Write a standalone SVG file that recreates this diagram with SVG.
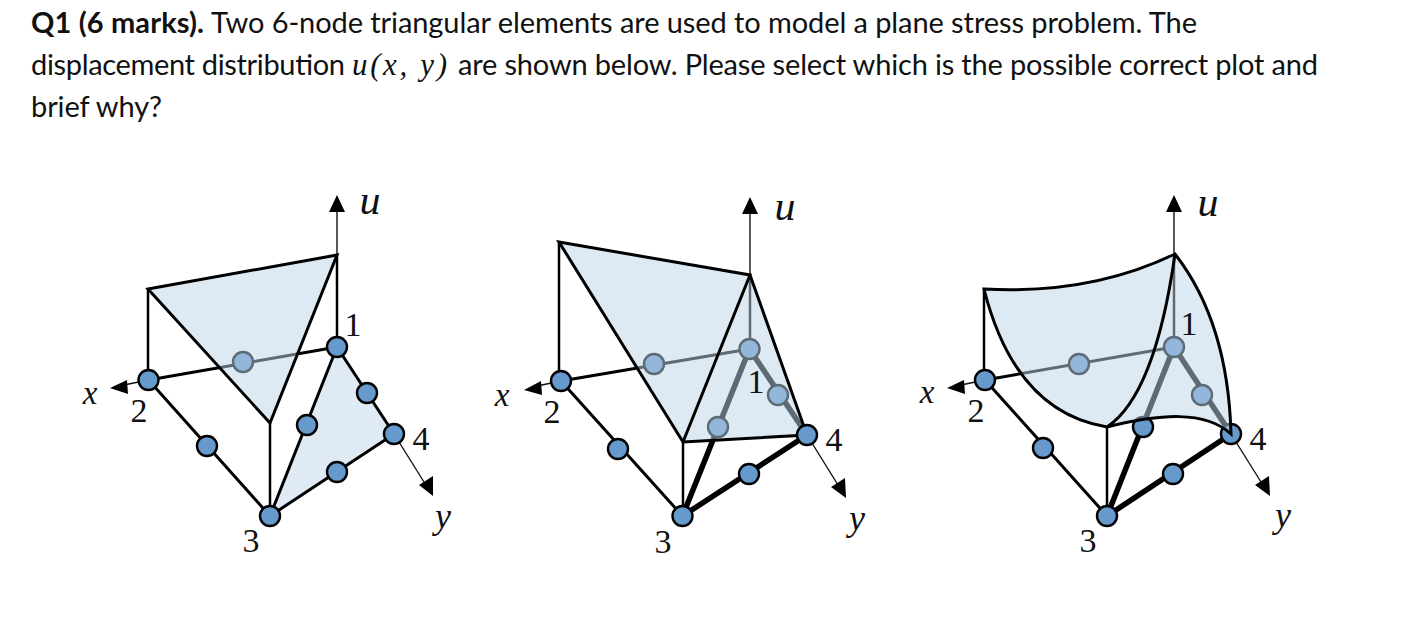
<svg xmlns="http://www.w3.org/2000/svg" width="1408" height="622" viewBox="0 0 1408 622">
<style>
.t{font:29px Lato,"Open Sans",sans-serif;fill:#111}
.b{font-weight:700}
.m{font:italic 31px "Liberation Serif",serif;fill:#111}
.d{font:34px "Liberation Serif",serif;fill:#111;text-anchor:middle}
.v{font:italic 42px "Liberation Serif",serif;fill:#111;text-anchor:middle}
.x{font-size:33px}
.y{font-size:36px}
.ax{fill:none;stroke:#111;stroke-width:1.4}
.e{fill:none;stroke:#000;stroke-width:2.5}
.k{fill:none;stroke:#000;stroke-width:3}
.h{fill:none;stroke:#000;stroke-width:5.500}
.s{fill:rgb(190,213,232);fill-opacity:.5;stroke:none}
.f{fill:#dfeaf4;stroke:none}
.n{fill:#6699cc;stroke:#000;stroke-width:2.4}
.tip{fill:#000;stroke:none}
</style>
<defs><circle id="nd" class="n" r="10"/></defs>
<g id="question">
<text class="t b" x="31" y="33" textLength="173" lengthAdjust="spacing">Q1 (6 marks).</text>
<text class="t" x="211" y="33" textLength="986" lengthAdjust="spacing">Two 6-node triangular elements are used to model a plane stress problem. The</text>
<text class="t" x="31" y="75" textLength="314" lengthAdjust="spacing">displacement distribution</text>
<text class="m" x="352" y="75" textLength="95" lengthAdjust="spacing">u(x, y)</text>
<text class="t" x="458" y="75" textLength="860" lengthAdjust="spacing">are shown below. Please select which is the possible correct plot and</text>
<text class="t" x="31" y="117" textLength="131" lengthAdjust="spacing">brief why?</text>
</g>

<g id="plot-a">
<polygon class="f" points="337,347 270,516 394,434"/>
<g id="plot-a-connectors">
<path class="ax" d="M337 212V255M148 380L124 385M394 434L424 482"/>
<path class="tip" d="M337 195L345 212H329ZM110 388L127 380L128 394ZM433 496L419 485L433 476Z"/>
<path class="k" d="M148.500 380L337 347M148.500 380L270 516M337 347L270 516M337 347L394 434M270 516L394 434"/>
<path class="e" d="M148 289V380M337 255V347M270 423V516"/>
</g>
<g id="a-node-1"><use href="#nd" x="337" y="347"/></g>
<g id="a-node-2"><use href="#nd" x="148.500" y="380"/></g>
<g id="a-node-3"><use href="#nd" x="270" y="516"/></g>
<g id="a-node-4"><use href="#nd" x="394" y="434"/></g>
<g id="a-node-12"><use href="#nd" x="243" y="362"/></g>
<g id="a-node-23"><use href="#nd" x="207" y="446"/></g>
<g id="a-node-13"><use href="#nd" x="307" y="425"/></g>
<g id="a-node-14"><use href="#nd" x="367" y="393"/></g>
<g id="a-node-34"><use href="#nd" x="337" y="472"/></g>
<polygon class="s" points="148,289 337,255 270,423"/>
<path class="k" d="M148 289L337 255L270 423Z"/>
<text class="d" x="353" y="336">1</text><text class="d" x="139" y="422">2</text><text class="d" x="251" y="552">3</text><text class="d" x="421" y="450">4</text>
<text class="v" x="370" y="214">u</text><text class="v x" x="90" y="404">x</text><text class="v y" x="443" y="528">y</text>
</g>

<g id="plot-b">
<g id="plot-b-connectors">
<path class="ax" d="M750 214V275M561 381L537 386M807 435L838 485"/>
<path class="tip" d="M750 197L758 214H742ZM524 390L541 381L542 395ZM846 498L831 487L845 478Z"/>
<path class="k" d="M561 381L749.500 349M561 381L682.500 516"/>
<path class="h" d="M749.500 349L682.500 516M749.500 349L807 435M682.500 516L807 435"/>
<path class="e" d="M559 242V381M750 275V349M683 442V516"/>
</g>
<g id="b-node-1"><use href="#nd" x="749.500" y="349"/></g>
<g id="b-node-2"><use href="#nd" x="561" y="381"/></g>
<g id="b-node-3"><use href="#nd" x="682.500" y="516"/></g>
<g id="b-node-12"><use href="#nd" x="654" y="364"/></g>
<g id="b-node-23"><use href="#nd" x="618" y="449"/></g>
<g id="b-node-13"><use href="#nd" x="718" y="427"/></g>
<g id="b-node-14"><use href="#nd" x="778" y="395"/></g>
<g id="b-node-34"><use href="#nd" x="749" y="474"/></g>
<polygon class="s" points="559,242 750,275 807,435 683,442"/>
<path class="k" d="M559 242L750 275L683 442ZM750 275L807 435L683 442"/>
<g id="b-node-4"><use href="#nd" x="807" y="435"/></g>
<text class="d" x="756" y="393">1</text><text class="d" x="552" y="423">2</text><text class="d" x="663" y="553">3</text><text class="d" x="834" y="451">4</text>
<text class="v" x="785" y="220">u</text><text class="v x" x="502" y="406">x</text><text class="v y" x="857" y="530">y</text>
</g>

<g id="plot-c">
<g id="plot-c-connectors">
<path class="ax" d="M1174 212V254M985 380L961 385M1231 434L1261 482"/>
<path class="tip" d="M1174 195L1182 212H1166ZM947 388L964 380L965 394ZM1270 496L1255 485L1269 476Z"/>
<path class="k" d="M985 380L1174 347M985 380L1107 516"/>
<path class="h" d="M1174 347L1107 516M1174 347L1231 434M1107 516L1231 434"/>
<path class="e" d="M984 289V380M1174 254V347M1107 427V516"/>
</g>
<g id="c-node-1"><use href="#nd" x="1174" y="347"/></g>
<g id="c-node-2"><use href="#nd" x="985" y="380"/></g>
<g id="c-node-3"><use href="#nd" x="1107" y="516"/></g>
<g id="c-node-4"><use href="#nd" x="1231" y="434"/></g>
<g id="c-node-12"><use href="#nd" x="1079" y="364"/></g>
<g id="c-node-23"><use href="#nd" x="1043" y="448"/></g>
<g id="c-node-13"><use href="#nd" x="1143" y="427"/></g>
<g id="c-node-14"><use href="#nd" x="1202" y="395"/></g>
<g id="c-node-34"><use href="#nd" x="1173" y="474"/></g>
<path class="s" d="M984 289Q1090 295 1175 254Q1228 322 1231 434C1205 410 1160 414 1107 427Q1015 412 984 289Z"/>
<path class="k" d="M984 289Q1090 295 1175 254Q1228 322 1231 434C1205 410 1160 414 1107 427Q1015 412 984 289ZM1107 427Q1155 395 1175 254"/>
<text class="d" x="1189" y="335">1</text><text class="d" x="976" y="422">2</text><text class="d" x="1088" y="552">3</text><text class="d" x="1258" y="450">4</text>
<text class="v" x="1208" y="216">u</text><text class="v x" x="927" y="403">x</text><text class="v y" x="1283" y="527">y</text>
</g>
</svg>
